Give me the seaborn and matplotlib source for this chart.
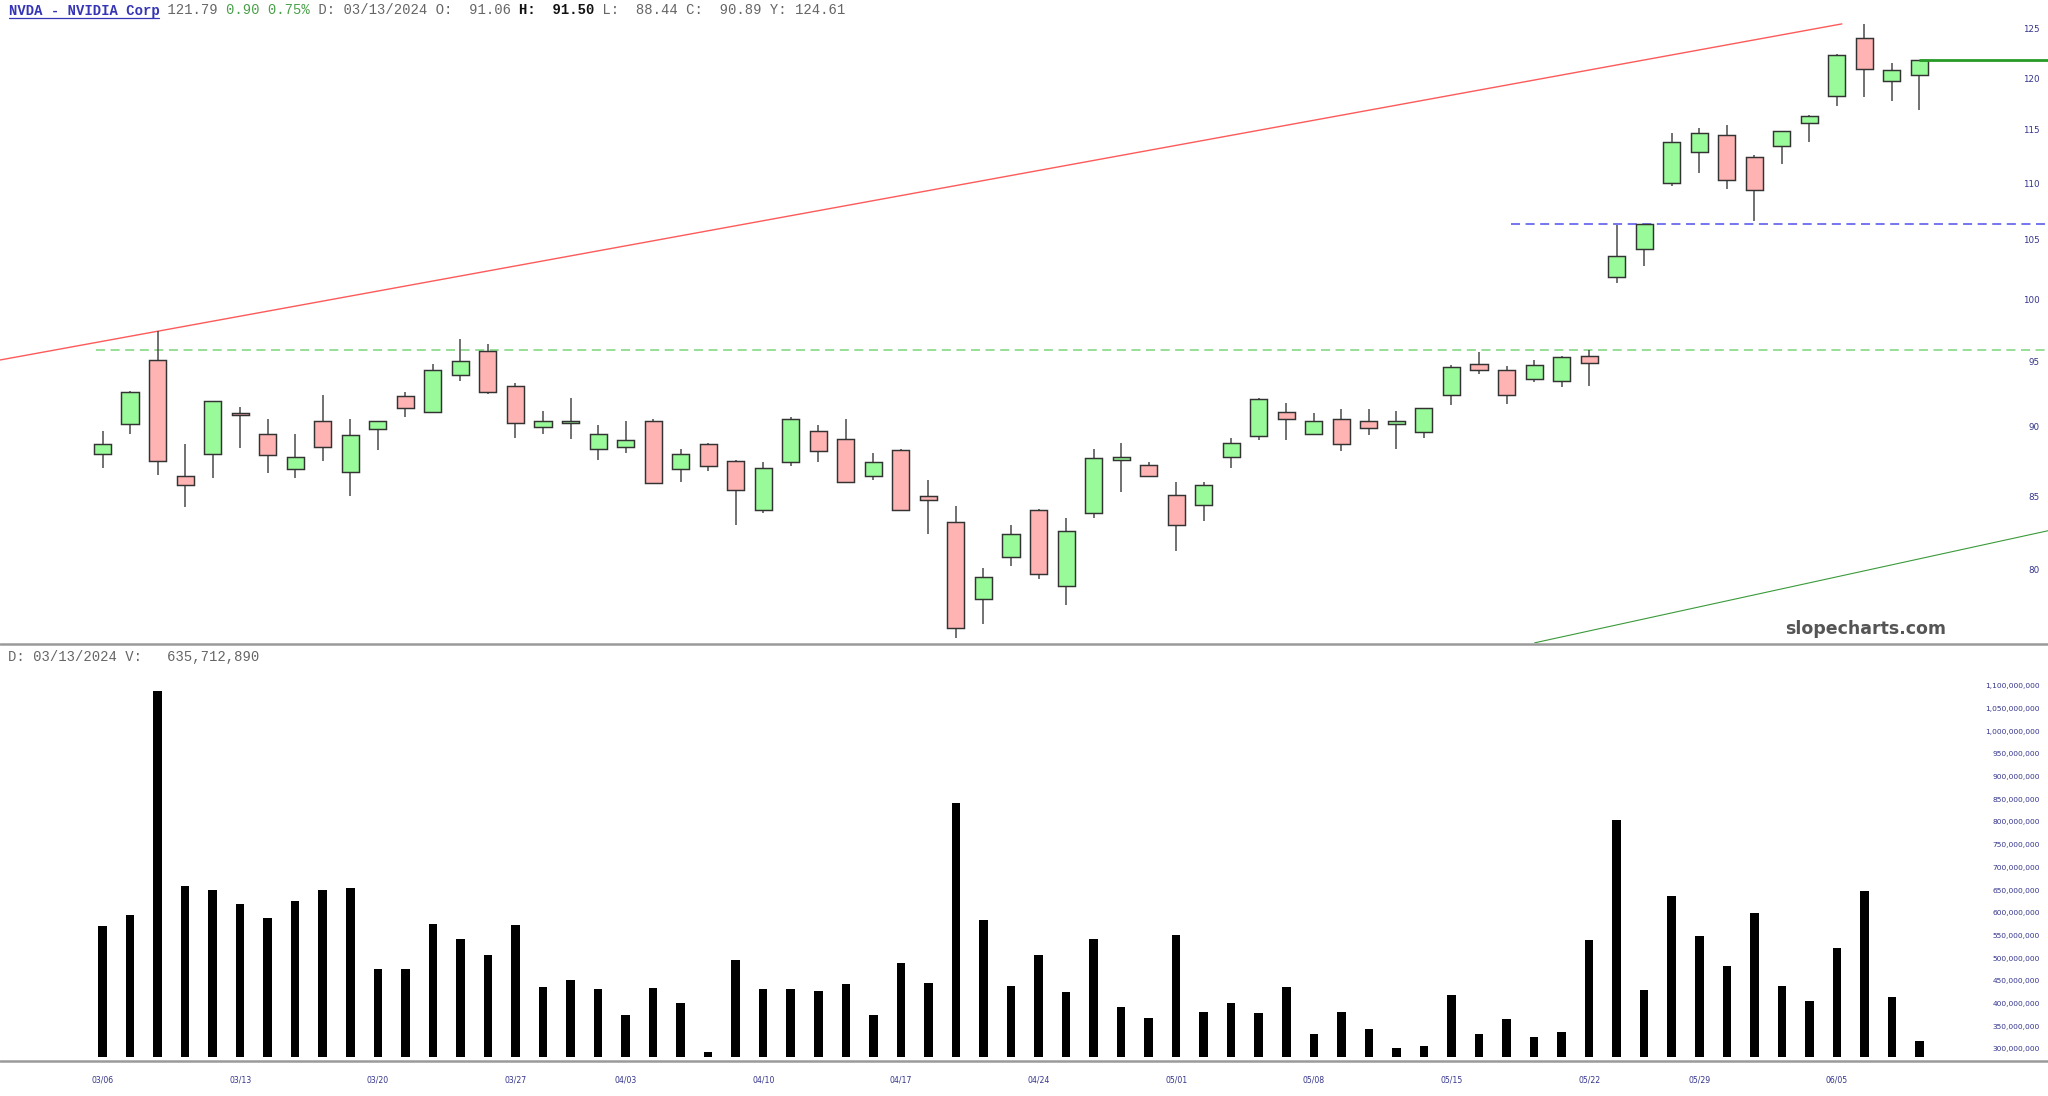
import numpy as np
import pandas as pd
import matplotlib
matplotlib.use("Agg")
import matplotlib.pyplot as plt
from matplotlib.lines import Line2D
from matplotlib.ticker import NullLocator
import seaborn as sns

# ---------------- data ----------------
dates = ["03/06", "03/07", "03/08", "03/11", "03/12", "03/13", "03/14", "03/15",
         "03/18", "03/19", "03/20", "03/21", "03/22", "03/25", "03/26", "03/27",
         "03/28", "04/01", "04/02", "04/03", "04/04", "04/05", "04/08", "04/09",
         "04/10", "04/11", "04/12", "04/15", "04/16", "04/17", "04/18", "04/19",
         "04/22", "04/23", "04/24", "04/25", "04/26", "04/29", "04/30", "05/01",
         "05/02", "05/03", "05/06", "05/07", "05/08", "05/09", "05/10", "05/13",
         "05/14", "05/15", "05/16", "05/17", "05/20", "05/21", "05/22", "05/23",
         "05/24", "05/28", "05/29", "05/30", "05/31", "06/03", "06/04", "06/05",
         "06/06", "06/07", "06/10"]

opens = [88.0, 90.2, 95.1, 86.4, 88.0, 91.06, 89.5, 86.9, 90.4, 86.7,
         89.8, 92.3, 91.1, 93.9, 95.8, 93.1, 90.0, 90.3, 88.4, 88.5,
         90.4, 86.9, 88.7, 87.5, 84.0, 87.4, 89.7, 89.1, 86.4, 88.3,
         85.0, 83.2, 78.1, 80.8, 84.0, 78.9, 83.8, 87.6, 87.2, 85.1,
         84.4, 87.8, 89.3, 91.1, 89.5, 90.6, 90.4, 90.2, 89.6, 92.4,
         94.8, 94.3, 93.6, 93.5, 95.4, 101.8, 104.2, 110.1, 112.9, 114.55,
         112.4, 113.5, 115.6, 118.25, 124.0, 119.7, 120.35]
highs = [89.7, 92.7, 97.4, 88.7, 91.9, 91.50, 90.6, 89.5, 92.4, 90.6,
         90.4, 92.6, 94.8, 96.8, 96.4, 93.3, 91.2, 92.2, 90.1, 90.4,
         90.6, 88.4, 88.8, 87.6, 87.4, 90.7, 90.1, 90.6, 88.1, 88.4,
         86.1, 84.3, 80.1, 83.0, 84.1, 83.5, 88.4, 88.8, 87.4, 86.0,
         86.0, 89.2, 92.2, 91.8, 91.0, 91.3, 91.3, 91.2, 91.4, 94.7,
         95.7, 94.6, 95.1, 95.4, 95.9, 106.3, 106.4, 114.7, 115.2, 115.5,
         112.6, 114.9, 116.4, 122.4, 125.5, 121.5, 121.8]
lows = [87.0, 89.5, 86.5, 84.2, 86.3, 88.44, 86.6, 86.3, 87.5, 85.0,
        88.3, 90.7, 91.1, 93.5, 92.5, 89.2, 89.5, 89.1, 87.6, 88.1,
        85.9, 86.0, 86.8, 83.0, 83.8, 87.1, 87.4, 86.0, 86.1, 84.0,
        82.4, 75.6, 76.5, 80.2, 79.4, 77.7, 83.5, 85.3, 86.4, 81.2,
        83.3, 87.0, 89.0, 89.0, 89.4, 88.2, 89.4, 88.4, 89.2, 91.6,
        94.0, 91.7, 93.4, 93.0, 93.1, 101.3, 102.8, 109.8, 111.0, 109.5,
        106.7, 111.8, 113.8, 117.3, 118.2, 117.8, 116.9]
closes = [88.7, 92.6, 87.5, 85.8, 91.9, 90.89, 87.9, 87.8, 88.5, 89.4,
          90.4, 91.4, 94.3, 95.0, 92.6, 90.3, 90.4, 90.4, 89.5, 89.0,
          85.9, 88.0, 87.1, 85.4, 87.0, 90.6, 88.2, 86.0, 87.4, 84.0,
          84.7, 76.2, 79.5, 82.4, 79.7, 82.6, 87.7, 87.8, 86.4, 83.0,
          85.8, 88.8, 92.1, 90.6, 90.4, 88.7, 89.9, 90.4, 91.4, 94.55,
          94.35, 92.4, 94.7, 95.3, 94.9, 103.6, 106.4, 113.8, 114.7, 110.3,
          109.4, 114.85, 116.3, 122.35, 120.9, 120.8, 121.79]
volumes_m = [571, 594, 1089, 659, 650, 620, 589, 626, 650, 654,
             475, 477, 575, 543, 508, 574, 436, 451, 433, 374,
             435, 402, 294, 497, 431, 431, 427, 442, 374, 490,
             446, 841, 584, 438, 506, 425, 542, 392, 369, 550,
             382, 401, 380, 437, 334, 382, 343, 301, 307, 419,
             332, 365, 327, 337, 540, 804, 430, 636, 548, 483,
             599, 438, 405, 522, 648, 414, 318]

tick_dates = ["03/06", "03/13", "03/20", "03/27", "04/03", "04/10", "04/17",
              "04/24", "05/01", "05/08", "05/15", "05/22", "05/29", "06/05"]
price_ticks = [80, 85, 90, 95, 100, 105, 110, 115, 120, 125]
volume_ticks_m = list(range(300, 1101, 50))

# drawn studies (index, price)
red_trend_x = [-3.72, 63.18]
red_trend_y = [95.1, 125.5]
green_trend_x = [52.02, 70.67]
green_trend_y = [75.3, 82.6]
resistance_level = 95.85
resistance_from = -0.25
gap_level = 106.4
gap_from = 51.15
last_price = 121.79

# header values
ticker = "NVDA - NVIDIA Corp"
last_txt = "121.79"
change_txt = "0.90 0.75%"
sel_date = "03/13/2024"
sel_o, sel_h, sel_l, sel_c, sel_y = "91.06", "91.50", "88.44", "90.89", "124.61"
sel_vol = "635,712,890"
watermark = "slopecharts.com"

# ---------------- figure ----------------
sns.set_style("white")
plt.rcParams["font.family"] = ["DejaVu Sans"]
plt.rcParams["lines.scale_dashes"] = False

W, H = 2048, 1096
fig = plt.figure(figsize=(W / 100, H / 100), dpi=100)
fig.patch.set_facecolor("white")


def fy(py):
    return 1 - py / H


def fx(px):
    return px / W


ax = fig.add_axes([0, fy(643), 1, (643 - 14) / H])
axv = fig.add_axes([0, fy(1057.3), 1, (1057.3 - 662) / H])

df = pd.DataFrame({"date": dates, "o": opens, "h": highs, "l": lows,
                   "c": closes, "v": np.array(volumes_m) * 1e6})
df["i"] = np.arange(len(df))
x_left = -102.5 / 27.53
x_right = (W - 102.5) / 27.53

GREEN_BODY = "#98fa98"
RED_BODY = "#ffb3b3"
EDGE = "#333333"
NAVY = "#34348c"

# price panel
ax.set_yscale("log")
up = df["c"] >= df["o"]
body_lo = np.minimum(df["o"], df["c"])
body_h = np.maximum((df["c"] - df["o"]).abs(), 0.12)


def log_line(xs, ys, xq):
    slope = (np.log(ys[1]) - np.log(ys[0])) / (xs[1] - xs[0])
    return np.exp(np.log(ys[0]) + slope * (np.asarray(xq) - xs[0]))


ax.plot(red_trend_x, red_trend_y, color="#ff5a5a", lw=1.0, zorder=1)
gx = np.array([green_trend_x[0], x_right])
ax.plot(gx, log_line(green_trend_x, green_trend_y, gx), color="#3a9a3a", lw=0.8, zorder=1)
ax.plot([resistance_from, x_right], [resistance_level] * 2, color="#8fdc8f",
        lw=1.3, dashes=(6.5, 4), zorder=1)
ax.plot([gap_from, x_right], [gap_level] * 2, color="#6a6aee",
        lw=1.3, dashes=(6.5, 4), zorder=1)

ax.vlines(df["i"], df["l"], df["h"], color="#4a4a4a", lw=1.1, zorder=2)
ax.bar(df["i"], body_h, bottom=body_lo, width=0.62,
       color=np.where(up, GREEN_BODY, RED_BODY), edgecolor=EDGE,
       linewidth=1.05, zorder=3)

ax.plot([df["i"].iloc[-1], x_right], [last_price] * 2, color="#259a25",
        lw=2.0, zorder=4, solid_capstyle="butt")

ax.set_xlim(x_left, x_right)
ax.set_ylim(75.29, 126.53)
ax.set_yticks(price_ticks)
ax.set_yticklabels([str(t) for t in price_ticks])
ax.yaxis.set_minor_locator(NullLocator())
ax.set_xticks([])
ax.tick_params(axis="y", which="both", left=False, right=False, labelleft=False,
               labelright=True, pad=-5.8, labelsize=6.3, labelcolor=NAVY, length=0)
for lab in ax.get_yticklabels():
    lab.set_ha("right")
for s in ax.spines.values():
    s.set_visible(False)
ax.set_facecolor("white")

ax.text(fx(1866), fy(629.5), watermark, transform=fig.transFigure, ha="center",
        va="center", fontsize=12.5, fontweight="bold", color="#555555", zorder=5)

# volume panel
sns.barplot(data=df, x="i", y="v", native_scale=True, color="black",
            saturation=1, width=0.31, errorbar=None, ax=axv, linewidth=0)
axv.set_xlim(x_left, x_right)
axv.set_ylim(281.6e6, 1152.3e6)
axv.set_yticks([v * 1e6 for v in volume_ticks_m])
axv.set_yticklabels([f"{v * 1e6:,.0f}" for v in volume_ticks_m])
axv.yaxis.set_minor_locator(NullLocator())
tick_idx = [dates.index(d) for d in tick_dates]
axv.set_xticks(tick_idx)
axv.set_xticklabels(tick_dates)
axv.set_xlabel("")
axv.set_ylabel("")
axv.tick_params(axis="y", which="both", left=False, right=False, labelleft=False,
                labelright=True, pad=-5.8, labelsize=5.4, labelcolor=NAVY, length=0)
for lab in axv.get_yticklabels():
    lab.set_ha("right")
axv.tick_params(axis="x", bottom=False, labelbottom=True, pad=13, labelsize=5.6,
                labelcolor=NAVY, length=0)
for s in axv.spines.values():
    s.set_visible(False)

# separators
fig.add_artist(Line2D([0, 1], [fy(643.5)] * 2, color="#9a9a9a", lw=1.8))
fig.add_artist(Line2D([0, 1], [fy(1061)] * 2, color="#9a9a9a", lw=1.8))

# header
MONO = ["Liberation Mono", "DejaVu Sans Mono"]
cw = 8.36
x0 = 8.6
pieces = [
    (ticker, "#3535b5", "bold"),
    (" " + last_txt + " ", "#666666", "normal"),
    (change_txt, "#4aa04a", "normal"),
    (" D: " + sel_date + " O:  " + sel_o + " ", "#666666", "normal"),
    ("H:  " + sel_h, "#111111", "bold"),
    (" L:  " + sel_l + " C:  " + sel_c + " Y: " + sel_y, "#666666", "normal"),
]
k = 0
for txt, col, wt in pieces:
    fig.text(fx(x0 + k * cw), fy(10.5), txt, family=MONO, fontsize=10,
             color=col, fontweight=wt, ha="left", va="center")
    k += len(txt)
fig.add_artist(Line2D([fx(x0), fx(x0 + len(ticker) * cw)], [fy(17.5)] * 2,
                      color="#3535b5", lw=0.9))

fig.text(fx(8.4), fy(657), "D: " + sel_date + " V:   " + sel_vol, family=MONO,
         fontsize=10, color="#666666", ha="left", va="center")

fig.savefig("out.png", dpi=100, facecolor="white")
